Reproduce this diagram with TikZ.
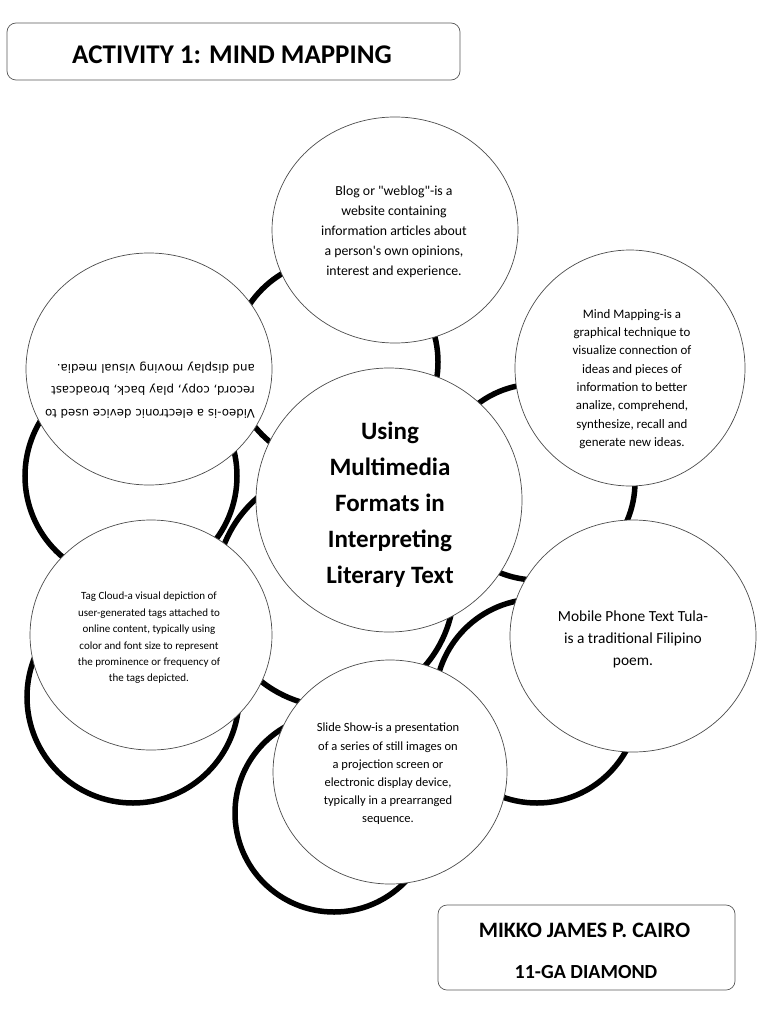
\documentclass[tikz,border=0pt]{standalone}
\usepackage{fontspec}
\newfontfamily\calibri{Carlito}
\newfontfamily\dejavu{DejaVu Sans}
\usetikzlibrary{shapes.geometric}
\begin{document}
\begin{tikzpicture}[x=1pt,y=-1pt,
  ring/.style={draw=black, line width=5.5pt},
  bubble/.style={ellipse, draw=black!70, line width=0.7pt, fill=white, inner sep=0pt},
  txt/.style={align=center, inner sep=0pt, text=black},
  box/.style={draw=black!65, line width=0.7pt, rounded corners=9pt, fill=white, inner sep=0pt}
]
\useasboundingbox (0,0) rectangle (768,1024);
\fill[white] (0,0) rectangle (768,1024);

% title
\node[box, minimum width=453pt, minimum height=57pt] (titlebox) at (233.5,51.5) {};
\node[txt, font=\calibri\bfseries\fontsize{27}{30}\selectfont] (title) at (232,55) {ACTIVITY 1: MIND MAPPING};

% interconnected rings
\draw[ring] (335,588) circle [radius=119pt];
\draw[ring] (335,362) circle [radius=103pt];
\draw[ring] (537,482) circle [radius=98pt];
\draw[ring] (537,701) circle [radius=102pt];
\draw[ring] (334,813) circle [radius=99pt];
\draw[ring] (133,697) circle [radius=106pt];
\draw[ring] (131,476) circle [radius=106pt];

% bubbles
\node[bubble, minimum width=246pt, minimum height=226pt] (blog) at (395,230) {};
\node[bubble, minimum width=230pt, minimum height=236pt] (mind) at (630,368) {};
\node[bubble, minimum width=246pt, minimum height=232pt] (video) at (149,369) {};
\node[bubble, minimum width=266pt, minimum height=264pt] (centre) at (389,500) {};
\node[bubble, minimum width=242pt, minimum height=230pt] (tag) at (151,635) {};
\node[bubble, minimum width=246pt, minimum height=232pt] (mobile) at (633,636) {};
\node[bubble, minimum width=234pt, minimum height=224pt] (slide) at (390,772) {};

% texts
\node[txt, font=\calibri\bfseries\fontsize{25}{36}\selectfont] (centretext) at (390,505) {Using\\Multimedia\\Formats in\\Interpreting\\Literary Text};
\node[txt, font=\calibri\fontsize{13.8}{20}\selectfont] (blogtext) at (394,232) {Blog or "weblog"-is a\\website containing\\information articles about\\a person's own opinions,\\interest and experience.};
\node[txt, font=\calibri\fontsize{12.9}{18.3}\selectfont] (mindtext) at (632,379) {Mind Mapping-is a\\graphical technique to\\visualize connection of\\ideas and pieces of\\information to better\\analize, comprehend,\\synthesize, recall and\\generate new ideas.};
\node[txt, align=left, rotate=180, font=\dejavu\fontsize{11.8}{22.5}\selectfont] (videotext) at (150,390) {Video-is a electronic device used to\\record, copy, play back, broadcast\\and display moving visual media.};
\node[txt, font=\calibri\fontsize{11}{16.4}\selectfont] (tagtext) at (149,638) {Tag Cloud-a visual depiction of\\user-generated tags attached to\\online content, typically using\\color and font size to represent\\the prominence or frequency of\\the tags depicted.};
\node[txt, font=\calibri\fontsize{15.4}{22}\selectfont] (mobiletext) at (633,639) {Mobile Phone Text Tula-\\is a traditional Filipino\\poem.};
\node[txt, font=\calibri\fontsize{12.5}{18.2}\selectfont] (slidetext) at (388,774) {Slide Show-is a presentation\\of a series of still images on\\a projection screen or\\electronic display device,\\typically in a prearranged\\sequence.};

% name box
\node[box, minimum width=297pt, minimum height=85pt] (namebox) at (586.5,947.5) {};
\node[txt, font=\calibri\bfseries\fontsize{22}{26}\selectfont] (name) at (584.5,930) {MIKKO JAMES P. CAIRO};
\node[txt, font=\calibri\bfseries\fontsize{20}{24}\selectfont] (section) at (586,972) {11-GA DIAMOND};
\end{tikzpicture}
\end{document}
